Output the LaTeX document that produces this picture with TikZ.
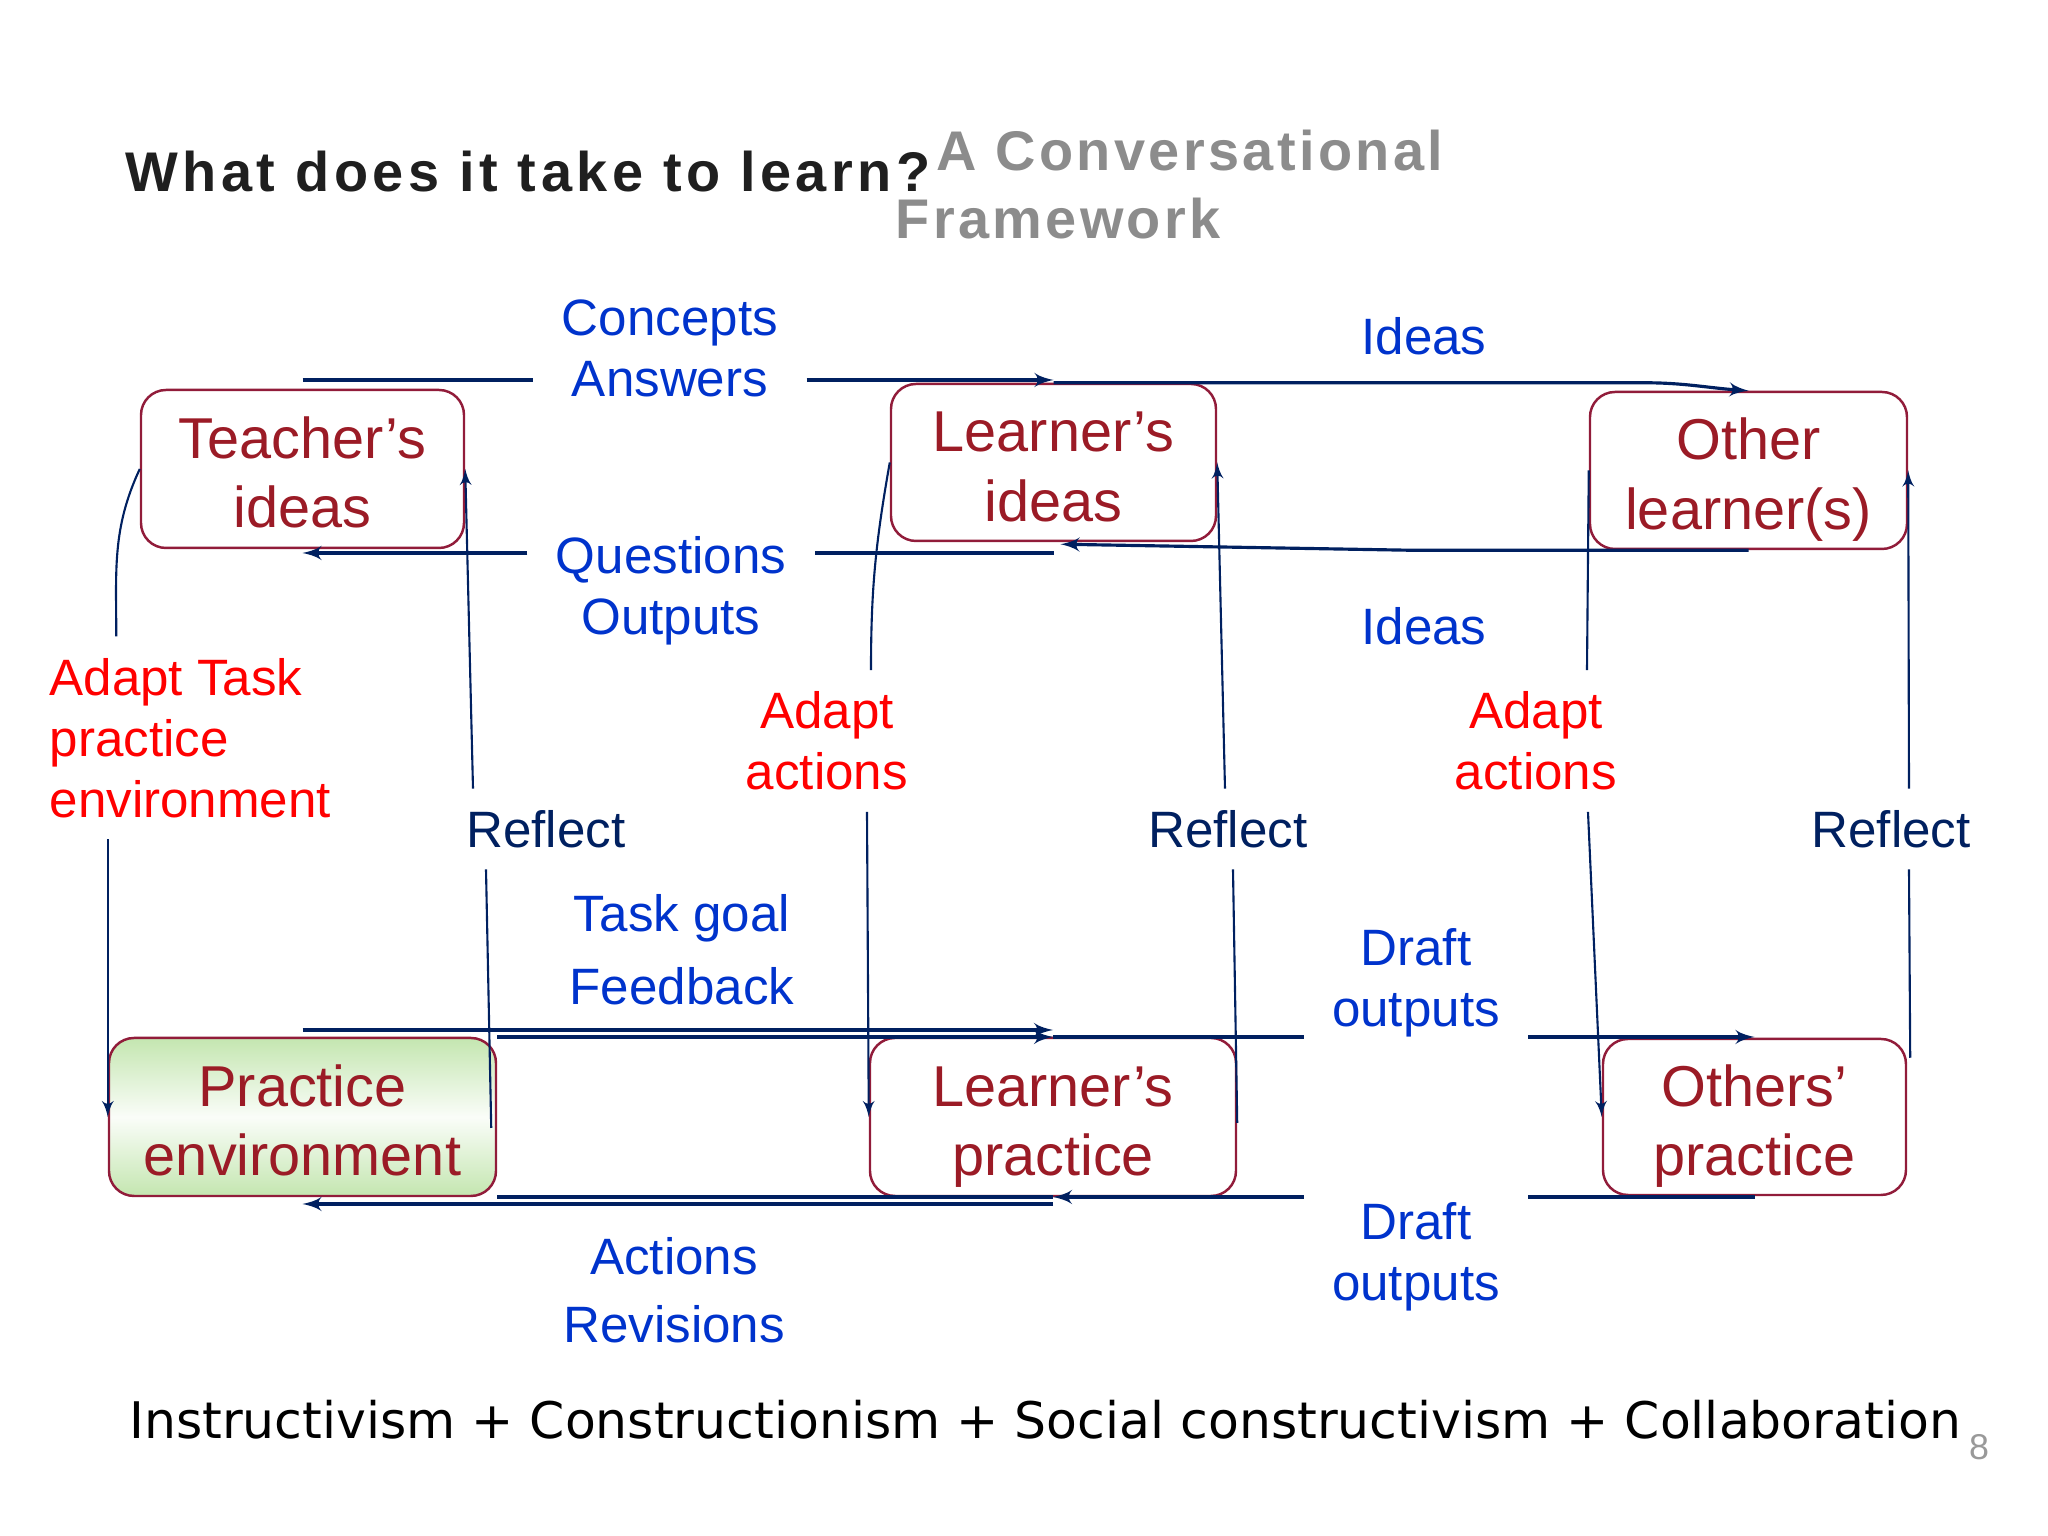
\documentclass[tikz,border=0pt]{standalone}
\usepackage{fontspec}
\setmainfont{Liberation Sans}
\newfontfamily\spacedfont{Liberation Sans}[LetterSpace=6]
\newfontfamily\titlespaced{Liberation Sans}[LetterSpace=8]
\newfontfamily\verdfont{DejaVu Sans}
\usepackage{tikz}
\usetikzlibrary{arrows}
\definecolor{boxred}{RGB}{155,27,38}
\definecolor{edgered}{RGB}{145,28,58}
\definecolor{lblue}{RGB}{0,51,204}
\definecolor{linknavy}{RGB}{0,32,96}
\definecolor{pegreen}{RGB}{196,230,176}
\definecolor{slidegray}{RGB}{140,140,140}
\tikzstyle{arrow} = [draw=linknavy, -latex']
\tikzstyle{line} = [draw=linknavy]
\tikzstyle{vert} = [line width=0.6pt]
\tikzstyle{box} = [rectangle, rounded corners=0.25cm, draw=edgered, line width=0.7pt, text=boxred, align=center, inner sep=0pt, text height=33.5pt, text depth=0pt, font=\fontsize{16.4}{19.75}\selectfont]
\tikzstyle{lbl} = [align=center, inner xsep=0.27cm, inner ysep=0.2cm, font=\fontsize{14.55}{17.4}\selectfont]

\begin{document}
\begin{tikzpicture}[line width=0.9pt]
      \useasboundingbox (0,0) rectangle (20.48,15.36);

      % heading
      \node (title) at (1.24,13.64) [anchor=west, inner sep=0pt, text=black!88, font={\fontsize{15.9}{19}\titlespaced\bfseries}] {What does it take to learn?};
      \node (sub1) at (9.35,13.85) [anchor=west, inner sep=0pt, text=slidegray, font={\fontsize{15.9}{19}\spacedfont\bfseries}] {A Conversational};
      \node (sub2) at (8.94,13.17) [anchor=west, inner sep=0pt, text=slidegray, font={\fontsize{15.9}{19}\spacedfont\bfseries}] {Framework};

      % boxes
      \node (ti) at (3.025,10.67) [box, minimum width=3.23cm, minimum height=1.58cm] {Teacher’s\\ideas};
      \node (li) at (10.535,10.735) [box, minimum width=3.25cm, minimum height=1.57cm] {Learner’s\\ideas};
      \node (ol) at (17.485,10.655) [box, minimum width=3.17cm, minimum height=1.57cm] {Other\\learner(s)};
      \node (pe) at (3.025,4.19) [box, minimum width=3.87cm, minimum height=1.58cm, top color=pegreen, bottom color=pegreen, middle color=pegreen!8] {Practice\\environment};
      \node (lp) at (10.53,4.19) [box, minimum width=3.66cm, minimum height=1.58cm] {Learner’s\\practice};
      \node (op) at (17.545,4.19) [box, minimum width=3.03cm, minimum height=1.56cm] {Others’\\practice};

      % labels
      \node (ca) at (6.70,11.88) [lbl, text=lblue] {Concepts\\Answers};
      \node (qo) at (6.71,9.45) [lbl, text=lblue] {Questions\\Outputs};
      \node (idt) at (14.24,12.00) [lbl, text=lblue] {Ideas};
      \node (idb) at (14.24,9.10) [lbl, text=lblue] {Ideas};
      \node (atp) at (0.21,7.98) [lbl, anchor=west, align=left, text=red] {Adapt Task\\practice\\environment};
      \node (aa1) at (8.27,7.95) [lbl, text=red] {Adapt\\actions};
      \node (aa2) at (15.36,7.95) [lbl, text=red] {Adapt\\actions};
      \node (rf1) at (5.46,7.07) [lbl, text=linknavy] {Reflect};
      \node (rf2) at (12.28,7.07) [lbl, text=linknavy] {Reflect};
      \node (rf3) at (18.91,7.07) [lbl, text=linknavy] {Reflect};
      \node (tf) at (6.82,5.86) [lbl, text=lblue, font=\fontsize{14.55}{20.8}\selectfont] {Task goal\\Feedback};
      \node (do1) at (14.16,5.53) [lbl, text=lblue] {Draft\\outputs};
      \node (do2) at (14.16,2.795) [lbl, text=lblue] {Draft\\outputs};
      \node (ar) at (6.74,2.46) [lbl, text=lblue, font=\fontsize{14.55}{19.35}\selectfont] {Actions\\Revisions};

      \node (theory) at (10.45,1.16) [font={\fontsize{14.35}{17}\verdfont}] {Instructivism + Constructionism + Social constructivism + Collaboration};
      \node (pgno) at (19.79,0.89) [text=gray!80, font=\fontsize{10.2}{12}\selectfont] {8};

      % heights of the horizontal connectors
      \coordinate (ya) at (0,11.56);
      \coordinate (yq) at (0,9.83);
      \coordinate (yt) at (0,5.06);
      \coordinate (yd) at (0,4.99);
      \coordinate (yr) at (0,3.39);
      \coordinate (ys) at (0,3.32);

      % top row
      \draw[line] (ti.north |- ya) -- (ca.west |- ya);
      \draw[arrow] (ca.east |- ya) -- (li.north |- ya);
      \draw[arrow] (li.north) -- +(5.9,0) to[out=0,in=176] (ol.north);
      \draw[line] (li.south |- yq) -- (qo.east |- yq);
      \draw[arrow] (qo.west |- yq) -- (ti.south |- yq);
      \draw[arrow] (ol.south) -- +(-3.4,0) -- ([xshift=0.07cm,yshift=-0.02cm]li.south);

      % columns
      \draw[line, vert] (ti.west) to[out=-115,in=90] ([xshift=-0.74cm]atp.north);
      \draw[arrow, vert] (atp.south -| pe.west) -- (pe.west);
      \draw[line, vert] ([xshift=-0.06cm,yshift=-0.11cm]pe.east) -- ([xshift=-0.6cm]rf1.south);
      \draw[arrow, vert] ([xshift=-0.73cm]rf1.north) -- (ti.east);
      \draw[line, vert] (li.west) to[out=-100,in=90] ([xshift=0.44cm]aa1.north);
      \draw[arrow, vert] ([xshift=0.40cm]aa1.south) -- (lp.west);
      \draw[line, vert] ([yshift=-0.06cm]lp.east) -- ([xshift=0.05cm]rf2.south);
      \draw[arrow, vert] ([xshift=-0.03cm]rf2.north) -- (li.east);
      \draw[line, vert] (ol.west) -- ([xshift=0.51cm]aa2.north);
      \draw[arrow, vert] ([xshift=0.52cm]aa2.south) -- (op.west);
      \draw[line, vert] ([xshift=0.03cm,yshift=-0.2cm]op.north east) -- ([xshift=0.18cm]rf3.south);
      \draw[arrow, vert] ([xshift=0.18cm]rf3.north) -- (ol.east);

      % bottom row
      \draw[arrow] (pe.north |- yt) -- (lp.north |- yt);
      \draw[arrow] (pe.north east |- yd) -- (lp.north |- yd);
      \draw[line] (lp.north |- yd) -- (do1.west |- yd);
      \draw[arrow] (do1.east |- yd) -- (op.north |- yd);
      \draw[line] (op.south |- yr) -- (do2.east |- yr);
      \draw[arrow] (do2.west |- yr) -- (lp.south |- yr);
      \draw[line] (lp.south |- yr) -- (pe.south east |- yr);
      \draw[arrow] (lp.south |- ys) -- (pe.south |- ys);
    \end{tikzpicture}
\end{document}
